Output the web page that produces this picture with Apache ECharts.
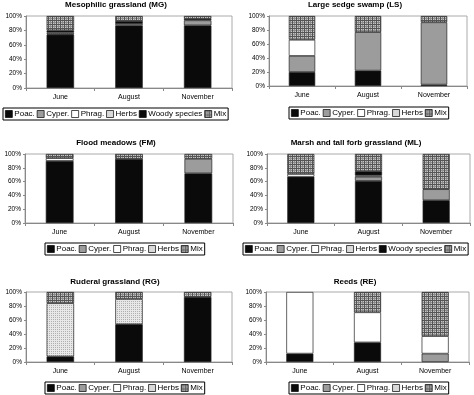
<!DOCTYPE html>
<html><head><meta charset="utf-8">
<script src="https://cdn.jsdelivr.net/npm/echarts@6.0.0/dist/echarts.min.js"></script>
<style>html,body{margin:0;padding:0;background:#fff}#c{width:474px;height:395px}</style>
</head><body><div id="c"></div>
<script>
const months = ['June', 'August', 'November'];
const titles = ['Mesophilic grassland (MG)', 'Large sedge swamp (LS)', 'Flood meadows (FM)',
  'Marsh and tall forb grassland (ML)', 'Ruderal grassland (RG)', 'Reeds (RE)'];
const groupNames = ['Poac.', 'Cyper.', 'Phrag.', 'Herbs', 'Woody species', 'Mix'];
const yTickValues = [0, 20, 40, 60, 80, 100];

// Mesophilic grassland (MG)
const mgPoac  = [74, 87, 87];
const mgCyper = [0, 0, 7];
const mgPhrag = [1, 2, 0];
const mgHerbs = [2, 0, 0];
const mgWoody = [3, 4, 2];
const mgMix   = [20, 7, 4];
// Large sedge swamp (LS)
const lsPoac  = [20, 22, 2];
const lsCyper = [23, 55, 89];
const lsPhrag = [23, 0, 0];
const lsHerbs = [0, 0, 0];
const lsMix   = [34, 23, 9];
// Flood meadows (FM)
const fmPoac  = [90, 93, 72];
const fmCyper = [0, 0, 21];
const fmPhrag = [4, 0, 0];
const fmHerbs = [0, 0, 0];
const fmMix   = [6, 7, 7];
// Marsh and tall forb grassland (ML)
const mlPoac  = [67, 61, 33];
const mlCyper = [0, 6, 16];
const mlPhrag = [4, 0, 0];
const mlHerbs = [0, 2, 0];
const mlWoody = [0, 6, 0];
const mlMix   = [29, 25, 51];
// Ruderal grassland (RG)
const rgPoac  = [8, 54, 93];
const rgCyper = [0, 0, 0];
const rgPhrag = [0, 0, 0];
const rgHerbs = [76, 36, 0];
const rgMix   = [16, 10, 7];
// Reeds (RE)
const rePoac  = [12, 28, 0];
const reCyper = [0, 0, 12];
const rePhrag = [88, 43, 25];
const reHerbs = [0, 0, 0];
const reMix   = [0, 29, 63];

const panelSeries = [
  [mgPoac, mgCyper, mgPhrag, mgHerbs, mgWoody, mgMix],
  [lsPoac, lsCyper, lsPhrag, lsHerbs, null, lsMix],
  [fmPoac, fmCyper, fmPhrag, fmHerbs, null, fmMix],
  [mlPoac, mlCyper, mlPhrag, mlHerbs, mlWoody, mlMix],
  [rgPoac, rgCyper, rgPhrag, rgHerbs, null, rgMix],
  [rePoac, reCyper, rePhrag, reHerbs, null, reMix]
];

// ---- layout & styles ----
const gridRects = [
  {left: 26, top: 16, width: 206, height: 72},
  {left: 269, top: 16, width: 198, height: 70},
  {left: 25, top: 154, width: 208, height: 69},
  {left: 267, top: 154, width: 203, height: 69},
  {left: 26, top: 292, width: 206, height: 70},
  {left: 266, top: 292, width: 203, height: 70}
];
const titlePos = [[116, 6], [355, 6], [116, 144], [356, 144], [115, 283], [355, 283]];
const legendPos = [[3, 108], [289, 107], [45, 243], [243, 243], [45, 382], [289, 382]];

function makePattern(w, h, draw) {
  const c = document.createElement('canvas');
  c.width = w; c.height = h;
  const ctx = c.getContext('2d');
  draw(ctx);
  return {image: c, repeat: 'repeat'};
}
const mixPattern = makePattern(4, 4, ctx => {
  ctx.fillStyle = '#c6c6c6'; ctx.fillRect(0, 0, 4, 4);
  ctx.fillStyle = '#8c8c8c'; ctx.fillRect(0, 2, 4, 1); ctx.fillRect(2, 0, 1, 4);
  ctx.fillStyle = '#555555'; ctx.fillRect(0, 0, 4, 1); ctx.fillRect(0, 0, 1, 4);
});
const herbsPattern = makePattern(2, 2, ctx => {
  ctx.fillStyle = '#e8e8e8'; ctx.fillRect(0, 0, 2, 2);
  ctx.fillStyle = '#b0b0b0'; ctx.fillRect(1, 1, 1, 1);
});
const groupColors = ['#0a0a0a', '#9c9c9c', '#ffffff', herbsPattern, '#0a0a0a', mixPattern];

const FONT = 'Liberation Sans, Arial, sans-serif';
const option = {
  animation: false,
  backgroundColor: '#fff',
  title: [], legend: [], grid: [], xAxis: [], yAxis: [], series: []
};

panelSeries.forEach((arrs, p) => {
  option.title.push({
    text: titles[p], left: titlePos[p][0], top: titlePos[p][1] - 5, textAlign: 'center', padding: 0,
    textStyle: {fontSize: 8, fontWeight: 'bold', fontFamily: FONT, color: '#000'}
  });
  option.grid.push(Object.assign({show: true, borderColor: '#aaa', borderWidth: 1, backgroundColor: '#fff',
    containLabel: false, outerBoundsMode: 'none'}, gridRects[p]));
  option.xAxis.push({
    type: 'category', gridIndex: p, data: months,
    axisLabel: {fontSize: 7, margin: 6, color: '#000', fontFamily: FONT},
    axisLine: {show: true, lineStyle: {color: '#888', width: 1}},
    axisTick: {show: true, length: 3, lineStyle: {color: '#888'}},
    splitLine: {show: false}
  });
  option.yAxis.push({
    type: 'value', gridIndex: p, min: yTickValues[0], max: yTickValues[yTickValues.length - 1],
    interval: yTickValues[1] - yTickValues[0],
    axisLabel: {fontSize: 6.5, margin: 4, color: '#000', fontFamily: FONT, formatter: '{value}%'},
    axisLine: {show: true, lineStyle: {color: '#888', width: 1}},
    axisTick: {show: true, length: 2, lineStyle: {color: '#888'}},
    splitLine: {show: false}
  });
  const legendData = [];
  arrs.forEach((vals, g) => {
    if (!vals) return;
    legendData.push(groupNames[g]);
    option.series.push({
      type: 'bar', name: groupNames[g], stack: 'panel' + p, xAxisIndex: p, yAxisIndex: p,
      barWidth: '40%', data: vals.map(v => v === 0 ? '-' : v),
      itemStyle: {color: groupColors[g], borderColor: '#222', borderWidth: 0.7},
      emphasis: {disabled: true}, silent: true
    });
  });
  option.legend.push({
    data: legendData, left: legendPos[p][0], top: legendPos[p][1], orient: 'horizontal',
    icon: 'rect', itemWidth: 7, itemHeight: 7, itemGap: 2,
    padding: [2, 2, 2, 2], borderColor: '#000', borderWidth: 1,
    itemStyle: {borderColor: '#000', borderWidth: 0.7},
    textStyle: {fontSize: 8, color: '#000', fontFamily: FONT, padding: [0, 0, 0, -3]},
    selectedMode: false
  });
});

const chart = echarts.init(document.getElementById('c'), null, {renderer: 'canvas'});
chart.setOption(option);
</script>
</body></html>
